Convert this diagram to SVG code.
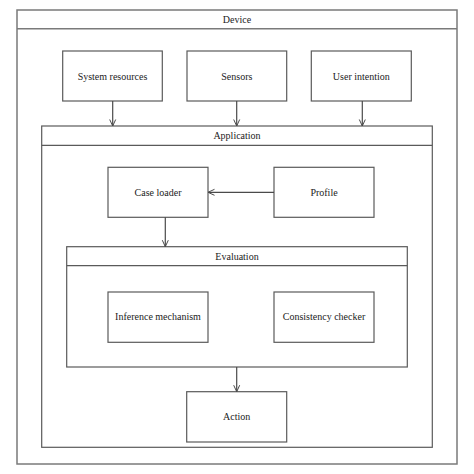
<svg xmlns="http://www.w3.org/2000/svg" width="474" height="474" viewBox="0 0 474 474">
<defs>
<style>
.frame{fill:none;stroke:#7a7a7a;stroke-width:1.5}
.box{fill:#fff;stroke:#5a5a5a;stroke-width:1.2}
.cont{fill:none;stroke:#5a5a5a;stroke-width:1.2}
.lbl{font-family:"Liberation Serif","Times New Roman",serif;font-size:10px;fill:#222;text-anchor:middle;dominant-baseline:central}
.conn{fill:none;stroke:#4a4a4a;stroke-width:1.2;marker-end:url(#arr)}
</style>
<marker id="arr" viewBox="0 0 8 8" refX="7.5" refY="4" markerWidth="8" markerHeight="8" markerUnits="userSpaceOnUse" orient="auto">
<path d="M1,1 L7.5,4 L1,7" fill="none" stroke="#4a4a4a" stroke-width="1"/>
</marker>
</defs>
<rect width="474" height="474" fill="#fff"/>
<g id="device">
<rect class="frame" x="17" y="10" width="440" height="454"/>
<line class="frame" x1="17" y1="28.7" x2="457" y2="28.7"/>
<text class="lbl" x="237" y="19.5">Device</text>
</g>
<g id="system-resources">
<rect class="box" x="62.7" y="51" width="99.6" height="50"/>
<text class="lbl" x="112.5" y="76">System resources</text>
</g>
<g id="sensors">
<rect class="box" x="187" y="51" width="99.7" height="50"/>
<text class="lbl" x="236.8" y="76">Sensors</text>
</g>
<g id="user-intention">
<rect class="box" x="311.3" y="51" width="100" height="50"/>
<text class="lbl" x="361.3" y="76">User intention</text>
</g>
<g id="application">
<rect class="cont" x="41.7" y="126" width="390.6" height="321.3"/>
<line class="cont" x1="41.7" y1="145.3" x2="432.3" y2="145.3"/>
<text class="lbl" x="237" y="135.5">Application</text>
</g>
<g id="case-loader">
<rect class="box" x="108" y="167.3" width="100" height="50"/>
<text class="lbl" x="158" y="192.3">Case loader</text>
</g>
<g id="profile">
<rect class="box" x="274" y="167.3" width="100" height="50"/>
<text class="lbl" x="324" y="192.3">Profile</text>
</g>
<g id="evaluation">
<rect class="cont" x="66.7" y="246.7" width="340.6" height="120.3"/>
<line class="cont" x1="66.7" y1="265.7" x2="407.3" y2="265.7"/>
<text class="lbl" x="237" y="256">Evaluation</text>
</g>
<g id="inference-mechanism">
<rect class="box" x="108" y="292" width="100" height="50.3"/>
<text class="lbl" x="158" y="316.5">Inference mechanism</text>
</g>
<g id="consistency-checker">
<rect class="box" x="274" y="292" width="100" height="50.3"/>
<text class="lbl" x="324" y="316.5">Consistency checker</text>
</g>
<g id="action">
<rect class="box" x="186.7" y="391.7" width="100" height="50.3"/>
<text class="lbl" x="236.7" y="416.8">Action</text>
</g>
<g id="connectors">
<line class="conn" x1="112.7" y1="101" x2="112.7" y2="126"/>
<line class="conn" x1="236.7" y1="101" x2="236.7" y2="126"/>
<line class="conn" x1="362.3" y1="101" x2="362.3" y2="126"/>
<line class="conn" x1="274" y1="192.3" x2="208" y2="192.3"/>
<line class="conn" x1="165.3" y1="217.3" x2="165.3" y2="246.7"/>
<line class="conn" x1="236.7" y1="367" x2="236.7" y2="391.7"/>
</g>
</svg>
